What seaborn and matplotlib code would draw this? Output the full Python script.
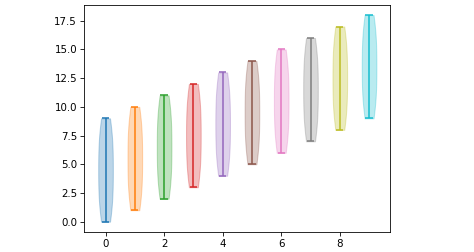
import numpy as np
import matplotlib
matplotlib.use("Agg")
import matplotlib.pyplot as plt
import seaborn as sns

positions = [0, 1, 2, 3, 4, 5, 6, 7, 8, 9]
starts = [0, 1, 2, 3, 4, 5, 6, 7, 8, 9]
n_values = 10
datasets = [list(range(s, s + n_values)) for s in starts]
colors = sns.color_palette("tab10", 10)

DPI = 74
fig = plt.figure(figsize=(474 / DPI, 252 / DPI), dpi=DPI)
ax = fig.add_axes([84.3 / 474, 20 / 252, (390.3 - 84.3) / 474, (232 - 4.7) / 252])

for pos, data, c in zip(positions, datasets, colors):
    parts = ax.violinplot([data], positions=[pos], widths=0.5)
    for b in parts['bodies']:
        b.set_facecolor(c)
        b.set_edgecolor(c)
        b.set_alpha(0.3)
    for key in ('cbars', 'cmins', 'cmaxes'):
        parts[key].set_color(c)

ax.set_xticks([0, 2, 4, 6, 8])
ax.set_yticks([0, 2.5, 5, 7.5, 10, 12.5, 15, 17.5])
ax.yaxis.set_major_formatter(matplotlib.ticker.FormatStrFormatter('%.1f'))
fig.savefig("out.png", dpi=DPI)
